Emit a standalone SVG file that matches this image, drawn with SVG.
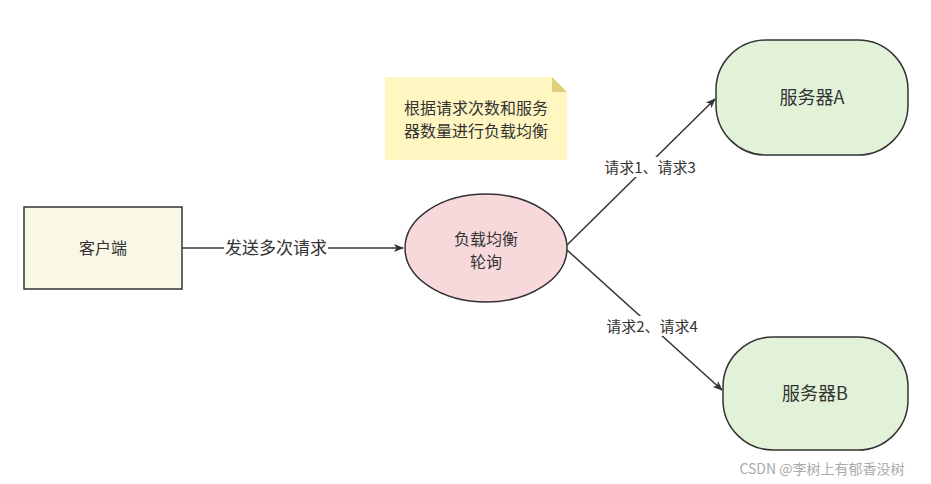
<svg xmlns="http://www.w3.org/2000/svg" width="931" height="484" viewBox="0 0 931 484">
<style>
text{font-family:"Noto Sans CJK SC","Liberation Sans",sans-serif;fill:#333;text-anchor:middle}
.n{font-size:18px}.l{font-size:15px}
.ln{stroke:#333;stroke-width:1.5;fill:none}
</style>
<defs><marker id="a" markerWidth="10" markerHeight="10" refX="9" refY="5" orient="auto" markerUnits="userSpaceOnUse"><path d="M0,1 L10,5 L0,9 L2.5,5 Z" fill="#333"/></marker></defs>
<rect width="931" height="484" fill="#fff"/>
<g id="note"><path d="M385,77 H552 L567,92 V160 H385 Z" fill="#fff4b3" opacity="0.8"/><path d="M552,77 V92 H567 Z" fill="#e0cf7a"/>
<text class="l" x="476" y="114" style="font-size:16px">根据请求次数和服务</text><text class="l" x="476" y="137" style="font-size:16px">器数量进行负载均衡</text></g>
<g id="client"><rect x="24" y="207" width="158" height="82" fill="#f9f7e6" stroke="#333" stroke-width="1.5"/><text class="l" x="103" y="254" style="font-size:16px">客户端</text></g>
<g id="lb"><ellipse cx="486" cy="248" rx="81" ry="54" fill="#f8d9db" stroke="#333" stroke-width="1.5"/><text class="l" x="486" y="245" style="font-size:16px">负载均衡</text><text class="l" x="486" y="268" style="font-size:16px">轮询</text></g>
<g id="srvA"><rect x="716" y="40" width="192" height="115" rx="50" ry="50" fill="#e2f2d9" stroke="#333" stroke-width="1.5"/><text class="n" x="812" y="104">服务器A</text></g>
<g id="srvB"><rect x="723" y="337" width="185" height="113" rx="50" ry="50" fill="#e2f2d9" stroke="#333" stroke-width="1.5"/><text class="n" x="815" y="400">服务器B</text></g>
<g id="edges">
<line class="ln" x1="182" y1="248" x2="403" y2="248" marker-end="url(#a)"/>
<rect x="224" y="238" width="104" height="22" fill="#fff"/><text class="l" x="276" y="254" style="font-size:17px">发送多次请求</text>
<line class="ln" x1="567" y1="245" x2="715" y2="99" marker-end="url(#a)"/>
<line class="ln" x1="567" y1="250" x2="722" y2="390" marker-end="url(#a)"/>
<rect x="603" y="157" width="94" height="20" fill="#fff"/><text class="l" x="650" y="173">请求1、请求3</text>
<rect x="605" y="316" width="94" height="20" fill="#fff"/><text class="l" x="652" y="332">请求2、请求4</text>
</g>
<text x="822" y="474" style="font-size:14px;fill:#aaa">CSDN @李树上有郁香没树</text>
</svg>
